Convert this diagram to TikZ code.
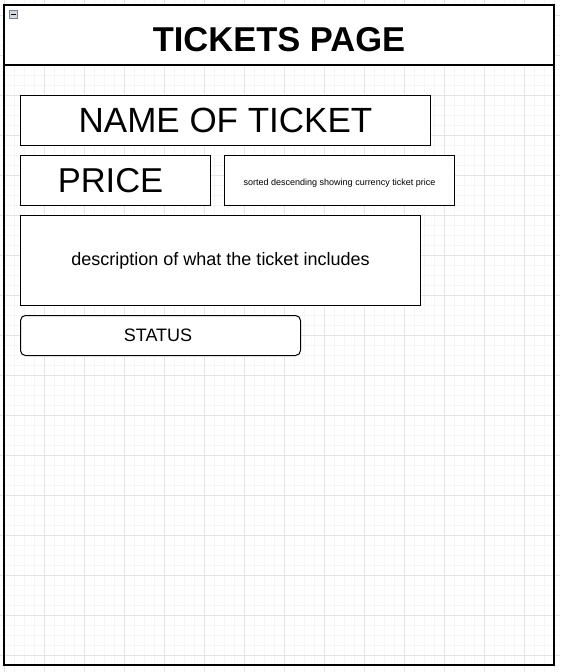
\documentclass[tikz,border=0pt]{standalone}
\usepackage{fontspec}
\setmainfont{Liberation Sans}
\definecolor{gridminor}{HTML}{F5F5F5}
\definecolor{gridmajor}{HTML}{E4E4E4}
\definecolor{iconfill}{HTML}{D4D8E0}
\definecolor{iconline}{HTML}{7A7F8A}
\begin{document}
\begin{tikzpicture}[x=1pt, y=-1pt,
    field/.style={draw=black, line width=1pt, fill=white, inner sep=0pt, anchor=north west},
    statusbox/.style={field, rounded corners=5pt}]
    \useasboundingbox (0,0) rectangle (560,672);
    \fill[white] (0,0) rectangle (560,672);
    % background grid
    \foreach \x in {4,14,...,554} \draw[gridminor, line width=1pt] (\x,0) -- (\x,672);
    \foreach \y in {5,15,...,665} \draw[gridminor, line width=1pt] (0,\y) -- (560,\y);
    \foreach \x in {4,44,...,524} \draw[gridmajor, line width=1pt] (\x,0) -- (\x,672);
    \foreach \y in {15,55,...,655} \draw[gridmajor, line width=1pt] (0,\y) -- (560,\y);

    % page frame and header
    \draw[line width=1.1pt] (4,5) rectangle (554,665);
    \filldraw[fill=white, draw=black, line width=1.1pt] (4,5) rectangle (554,65);
    \node[font=\bfseries\fontsize{34.5}{38}\selectfont] (title) at (279,40) {TICKETS PAGE};
    \filldraw[fill=iconfill, draw=iconline, line width=0.8pt] (9,10) rectangle (17.5,18.5);
    \draw[black, line width=1.2pt] (10.8,14.2) -- (15.7,14.2);

    % fields
    \node[field, minimum width=410, minimum height=50, font=\fontsize{35}{40}\selectfont] (name) at (20,95) {NAME OF TICKET};
    \node[field, minimum width=190, minimum height=50, font=\fontsize{34.5}{40}\selectfont] (price) at (20,155) {PRICE\hspace*{10pt}};
    \node[field, minimum width=230, minimum height=50, font=\fontsize{9}{11}\selectfont] (sorting) at (224,155) {\raisebox{-5pt}[0pt][0pt]{sorted descending showing currency ticket price}};
    \node[field, minimum width=400, minimum height=90, font=\fontsize{18}{20}\selectfont] (descr) at (20,215) {description of what the ticket includes};
    \node[statusbox, minimum width=280, minimum height=40, font=\fontsize{18}{20}\selectfont] (status) at (20,315) {STATUS\hspace*{5pt}};
\end{tikzpicture}
\end{document}
